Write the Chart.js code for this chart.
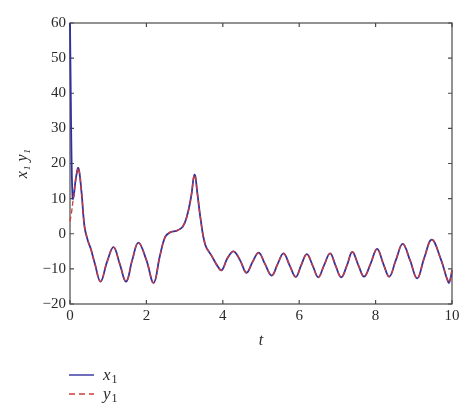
<!DOCTYPE html>
<html>
<head>
<meta charset="utf-8">
<script src="https://cdn.jsdelivr.net/npm/chart.js@4"></script>
<style>
  html, body { margin: 0; padding: 0; background: #fff; }
  canvas { display: block; }
</style>
</head>
<body>
<canvas id="c" width="474" height="417"></canvas>
<script>
// ---- data ----
const seriesNames = ['x1', 'y1'];
const tX1 = [0, 0.02, 0.04, 0.07, 0.1, 0.15, 0.22, 0.3, 0.38, 0.46, 0.55, 0.65, 0.8, 0.97, 1.14, 1.3, 1.47, 1.63, 1.79, 2.0, 2.19, 2.35, 2.49, 2.62, 2.8, 2.95, 3.06, 3.17, 3.26, 3.34, 3.41, 3.54, 3.72, 3.85, 3.97, 4.12, 4.28, 4.45, 4.62, 4.78, 4.94, 5.1, 5.28, 5.44, 5.59, 5.75, 5.91, 6.05, 6.2, 6.35, 6.5, 6.65, 6.81, 6.95, 7.1, 7.25, 7.39, 7.55, 7.7, 7.87, 8.04, 8.2, 8.36, 8.53, 8.71, 8.9, 9.09, 9.27, 9.47, 9.7, 9.91, 9.96, 10.0];
const x1Values = [60, 40, 22, 10, 11, 15.5, 18.7, 12, 2, -1.7, -4.5, -8.5, -13.6, -8, -3.8, -8.5, -13.6, -7.5, -2.5, -7.5, -14, -6.5, -0.9, 0.4, 0.9, 2, 4.9, 10.5, 16.8, 11, 4.9, -3.1, -6.5, -9, -10.4, -7, -5, -7.5, -11.1, -8, -5.4, -8.5, -11.9, -8.5, -5.6, -9, -12.3, -9, -5.8, -9, -12.4, -9, -5.6, -9, -12.4, -9, -5.2, -9, -12.2, -8.5, -4.3, -8.5, -12.2, -7.5, -2.9, -7.5, -12.7, -7, -1.7, -7, -13.9, -12.8, -10.4];
const tY1 = [0, 0.04, 0.08, 0.1, 0.15, 0.22, 0.3, 0.38, 0.46, 0.55, 0.65, 0.8, 0.97, 1.14, 1.3, 1.47, 1.63, 1.79, 2.0, 2.19, 2.35, 2.49, 2.62, 2.8, 2.95, 3.06, 3.17, 3.26, 3.34, 3.41, 3.54, 3.72, 3.85, 3.97, 4.12, 4.28, 4.45, 4.62, 4.78, 4.94, 5.1, 5.28, 5.44, 5.59, 5.75, 5.91, 6.05, 6.2, 6.35, 6.5, 6.65, 6.81, 6.95, 7.1, 7.25, 7.39, 7.55, 7.7, 7.87, 8.04, 8.2, 8.36, 8.53, 8.71, 8.9, 9.09, 9.27, 9.47, 9.7, 9.91, 9.96, 10.0];
const y1Values = [3.5, 6, 9.5, 11, 15.5, 18.7, 12, 2, -1.7, -4.5, -8.5, -13.6, -8, -3.8, -8.5, -13.6, -7.5, -2.5, -7.5, -14, -6.5, -0.9, 0.4, 0.9, 2, 4.9, 10.5, 16.8, 11, 4.9, -3.1, -6.5, -9, -10.4, -7, -5, -7.5, -11.1, -8, -5.4, -8.5, -11.9, -8.5, -5.6, -9, -12.3, -9, -5.8, -9, -12.4, -9, -5.6, -9, -12.4, -9, -5.2, -9, -12.2, -8.5, -4.3, -8.5, -12.2, -7.5, -2.9, -7.5, -12.7, -7, -1.7, -7, -13.9, -12.8, -10.4];
const xTicks = [0, 2, 4, 6, 8, 10];
const yTicks = [-20, -10, 0, 10, 20, 30, 40, 50, 60];

const BLUE = 'rgb(48,48,160)';
const RED = 'rgb(205,60,60)';
const AXIS = '#4a4a4a';
const TEXT = '#2a2a2a';
const SERIF = '"Liberation Serif", "DejaVu Serif", serif';

const toPts = (ts, vs) => ts.map((t, i) => ({ x: t, y: vs[i] }));

const framePlugin = {
  id: 'frame',
  beforeDatasetsDraw(chart) {
    const { ctx, chartArea: a, scales } = chart;
    ctx.save();
    ctx.strokeStyle = AXIS;
    ctx.lineWidth = 1.2;
    ctx.strokeRect(a.left, a.top, a.right - a.left, a.bottom - a.top);
    ctx.beginPath();
    scales.x.ticks.forEach((tk, i) => {
      const px = scales.x.getPixelForTick(i);
      ctx.moveTo(px, a.bottom); ctx.lineTo(px, a.bottom - 4);
      ctx.moveTo(px, a.top); ctx.lineTo(px, a.top + 4);
    });
    scales.y.ticks.forEach((tk, i) => {
      const py = scales.y.getPixelForTick(i);
      ctx.moveTo(a.left, py); ctx.lineTo(a.left + 4, py);
      ctx.moveTo(a.right, py); ctx.lineTo(a.right - 4, py);
    });
    ctx.stroke();
    ctx.restore();
  },
  afterDraw(chart) {
    const { ctx, chartArea: a } = chart;
    const rows = [
      { name: 'x', color: BLUE, dash: [], y: 375 },
      { name: 'y', color: RED, dash: [6, 4], y: 394 }
    ];
    ctx.save();
    rows.forEach((r, i) => {
      ctx.strokeStyle = r.color;
      ctx.lineWidth = 1.4;
      ctx.setLineDash(r.dash);
      ctx.beginPath();
      ctx.moveTo(a.left - 1, r.y);
      ctx.lineTo(a.left + 24, r.y);
      ctx.stroke();
      ctx.setLineDash([]);
      ctx.fillStyle = TEXT;
      ctx.textBaseline = 'alphabetic';
      ctx.font = 'italic 17px ' + SERIF;
      const tx = a.left + 33;
      ctx.fillText(r.name, tx, r.y + 5);
      const w = ctx.measureText(r.name).width;
      ctx.font = '12px ' + SERIF;
      ctx.fillText(seriesNames[i].slice(1), tx + w + 1, r.y + 8);
    });
    ctx.restore();
  }
};

new Chart(document.getElementById('c'), {
  type: 'line',
  data: {
    datasets: [
      {
        label: 'x₁',
        data: toPts(tX1, x1Values),
        borderColor: BLUE,
        borderWidth: 1.8,
        pointRadius: 0,
        tension: 0.4,
        clip: false,
        order: 2
      },
      {
        label: 'y₁',
        data: toPts(tY1, y1Values),
        borderColor: RED,
        borderWidth: 1.3,
        borderDash: [5, 3],
        pointRadius: 0,
        tension: 0.4,
        clip: false,
        order: 1
      }
    ]
  },
  options: {
    responsive: false,
    animation: false,
    layout: { padding: { left: 0, right: 22, top: 23, bottom: 60 } },
    plugins: { legend: { display: false }, tooltip: { enabled: false } },
    scales: {
      x: {
        type: 'linear',
        min: 0, max: 10,
        afterBuildTicks: (s) => { s.ticks = xTicks.map(v => ({ value: v })); },
        afterFit: (s) => { s.height = 53; },
        grid: { display: false, drawTicks: false },
        border: { display: false },
        ticks: { padding: 3, color: TEXT, font: { family: SERIF, size: 15 } },
        title: { display: true, text: 't', color: TEXT, padding: { top: 0, bottom: 7 }, font: { family: SERIF, size: 16, style: 'italic' } }
      },
      y: {
        type: 'linear',
        min: -20, max: 60,
        afterBuildTicks: (s) => { s.ticks = yTicks.map(v => ({ value: v })); },
        afterFit: (s) => { s.width = 70; },
        grid: { display: false, drawTicks: false },
        border: { display: false },
        ticks: { padding: 4, color: TEXT, font: { family: SERIF, size: 15 }, callback: (v) => String(v).replace('-', '−') },
        title: { display: true, text: 'x₁ y₁', color: TEXT, padding: { top: 13, bottom: 0 }, font: { family: SERIF, size: 16, style: 'italic' } }
      }
    }
  },
  plugins: [framePlugin]
});
</script>
</body>
</html>
